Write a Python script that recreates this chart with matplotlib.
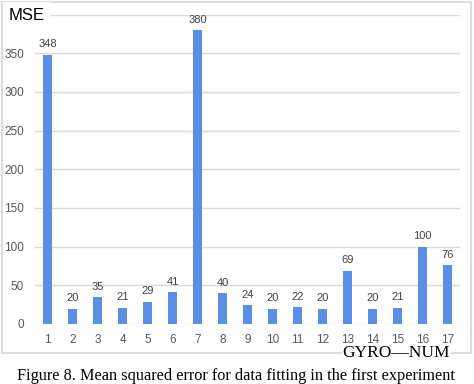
import matplotlib.pyplot as plt
from matplotlib.patches import Rectangle

# --- DATA ---
gyro_num = list(range(1, 18))
mse = [348, 20, 35, 21, 29, 41, 380, 40, 24, 20, 22, 20, 69, 20, 21, 100, 76]
y_ticks = [0, 50, 100, 150, 200, 250, 300, 350]

# --- STYLE ---
W, H = 474, 384
BAR_COLOR = "#5b8ee6"
GRID_COLOR = "#d9d9d9"
TEXT_COLOR = "#595959"

fig = plt.figure(figsize=(W / 100, H / 100), dpi=100)
fig.patch.set_facecolor("white")

# chart frame (like an Excel chart box)
frame = Rectangle((1.5 / W, 1 - 352.5 / H), 469.5 / W, 350.5 / H,
                  transform=fig.transFigure, fill=False,
                  edgecolor="#dcdcdc", linewidth=1.5)
fig.patches.append(frame)

ax = fig.add_axes([35 / W, 1 - 324 / H, 425 / W, 309.5 / H])
ax.bar(gyro_num, mse, width=0.33, color=BAR_COLOR, zorder=3)

for x, v in zip(gyro_num, mse):
    ax.text(x, v + 7, str(v), ha="center", va="bottom",
            fontsize=8, color="#404040", family="Liberation Sans")

ax.set_xlim(0.5, 17.5)
ax.set_ylim(0, 400)
ax.set_xticks(gyro_num)
ax.set_xticklabels([str(g) for g in gyro_num], fontsize=8.5,
                   color=TEXT_COLOR, family="Liberation Sans")
ax.set_yticks(y_ticks + [400])
ax.set_yticklabels([str(t) for t in y_ticks] + [""], fontsize=8.5,
                   color=TEXT_COLOR, family="Liberation Sans")
ax.tick_params(axis="x", length=0, pad=7)
ax.tick_params(axis="y", length=0, pad=8)
ax.grid(axis="y", color=GRID_COLOR, linewidth=1, zorder=0)
for s in ax.spines.values():
    s.set_visible(False)

# y-axis title
fig.text(9 / W, 1 - 15 / H, "MSE", fontsize=12, family="Liberation Sans",
         ha="left", va="center", color="black",
         bbox=dict(facecolor="white", edgecolor="none", pad=4))

# x-axis title
fig.text(450 / W, 1 - 353 / H, "GYRO\u2014NUM", fontsize=12.5,
         family="Liberation Serif", ha="right", va="center", color="black",
         bbox=dict(facecolor="white", edgecolor="none", pad=0.5))

# caption (sits at the very bottom, as in the source)
fig.text(0.497, 1 - 376 / H, "Figure 8. Mean squared error for data fitting in the first experiment",
         fontsize=11.7, family="Liberation Serif", ha="center", va="center",
         color="black")

fig.savefig("out.png", dpi=100)
